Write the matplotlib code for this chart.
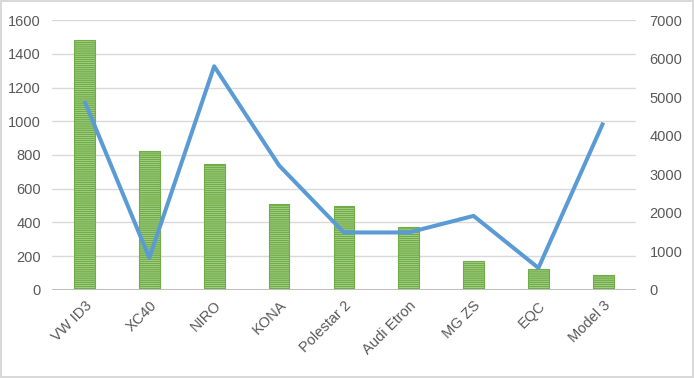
import numpy as np
import matplotlib.pyplot as plt

# Data
models = ['VW ID3', 'XC40', 'NIRO', 'KONA', 'Polestar 2', 'Audi Etron', 'MG ZS', 'EQC', 'Model 3']
bar_values = [1480, 825, 748, 512, 500, 375, 172, 125, 90]
line_values = [4900, 830, 5800, 3230, 1490, 1490, 1920, 570, 4340]

plt.rcParams['font.family'] = ['Liberation Sans', 'DejaVu Sans']
plt.rcParams['hatch.linewidth'] = 1.0
txt = '#595959'

fig = plt.figure(figsize=(6.94, 3.78), dpi=100)
fig.patch.set_edgecolor('#d9d9d9')
fig.patch.set_linewidth(1.5)
ax = fig.add_axes([0.075, 0.233, 0.841, 0.714])
ax2 = ax.twinx()

x = np.arange(len(models))
ax.bar(x, bar_values, width=0.32, color='#b5d99c', edgecolor='#70ad47',
       hatch='--------', linewidth=0.8, zorder=2)
ax2.plot(x, line_values, color='#5b9bd5', linewidth=2.9, solid_capstyle='butt',
         solid_joinstyle='round', zorder=3)

ax.set_xlim(-0.5, len(models) - 0.5)
ax.set_ylim(0, 1600)
ax.set_yticks(np.arange(0, 1601, 200))
ax2.set_ylim(0, 7000)
ax2.set_yticks(np.arange(0, 7001, 1000))

ax.yaxis.grid(True, color='#d9d9d9', linewidth=1)
ax.set_axisbelow(True)
ax.set_xticks(x)
ax.set_xticklabels(models, rotation=45, ha='right', rotation_mode='anchor')

for a in (ax, ax2):
    for s in ('top', 'left', 'right', 'bottom'):
        a.spines[s].set_visible(False)
    a.tick_params(length=0, labelsize=10.5, labelcolor=txt)
ax.axhline(0, color='#bfbfbf', linewidth=2.2, zorder=4)
ax.tick_params(axis='x', pad=6)
ax.tick_params(axis='y', pad=8)
ax2.tick_params(axis='y', pad=10)

plt.savefig('out.png', dpi=100)
